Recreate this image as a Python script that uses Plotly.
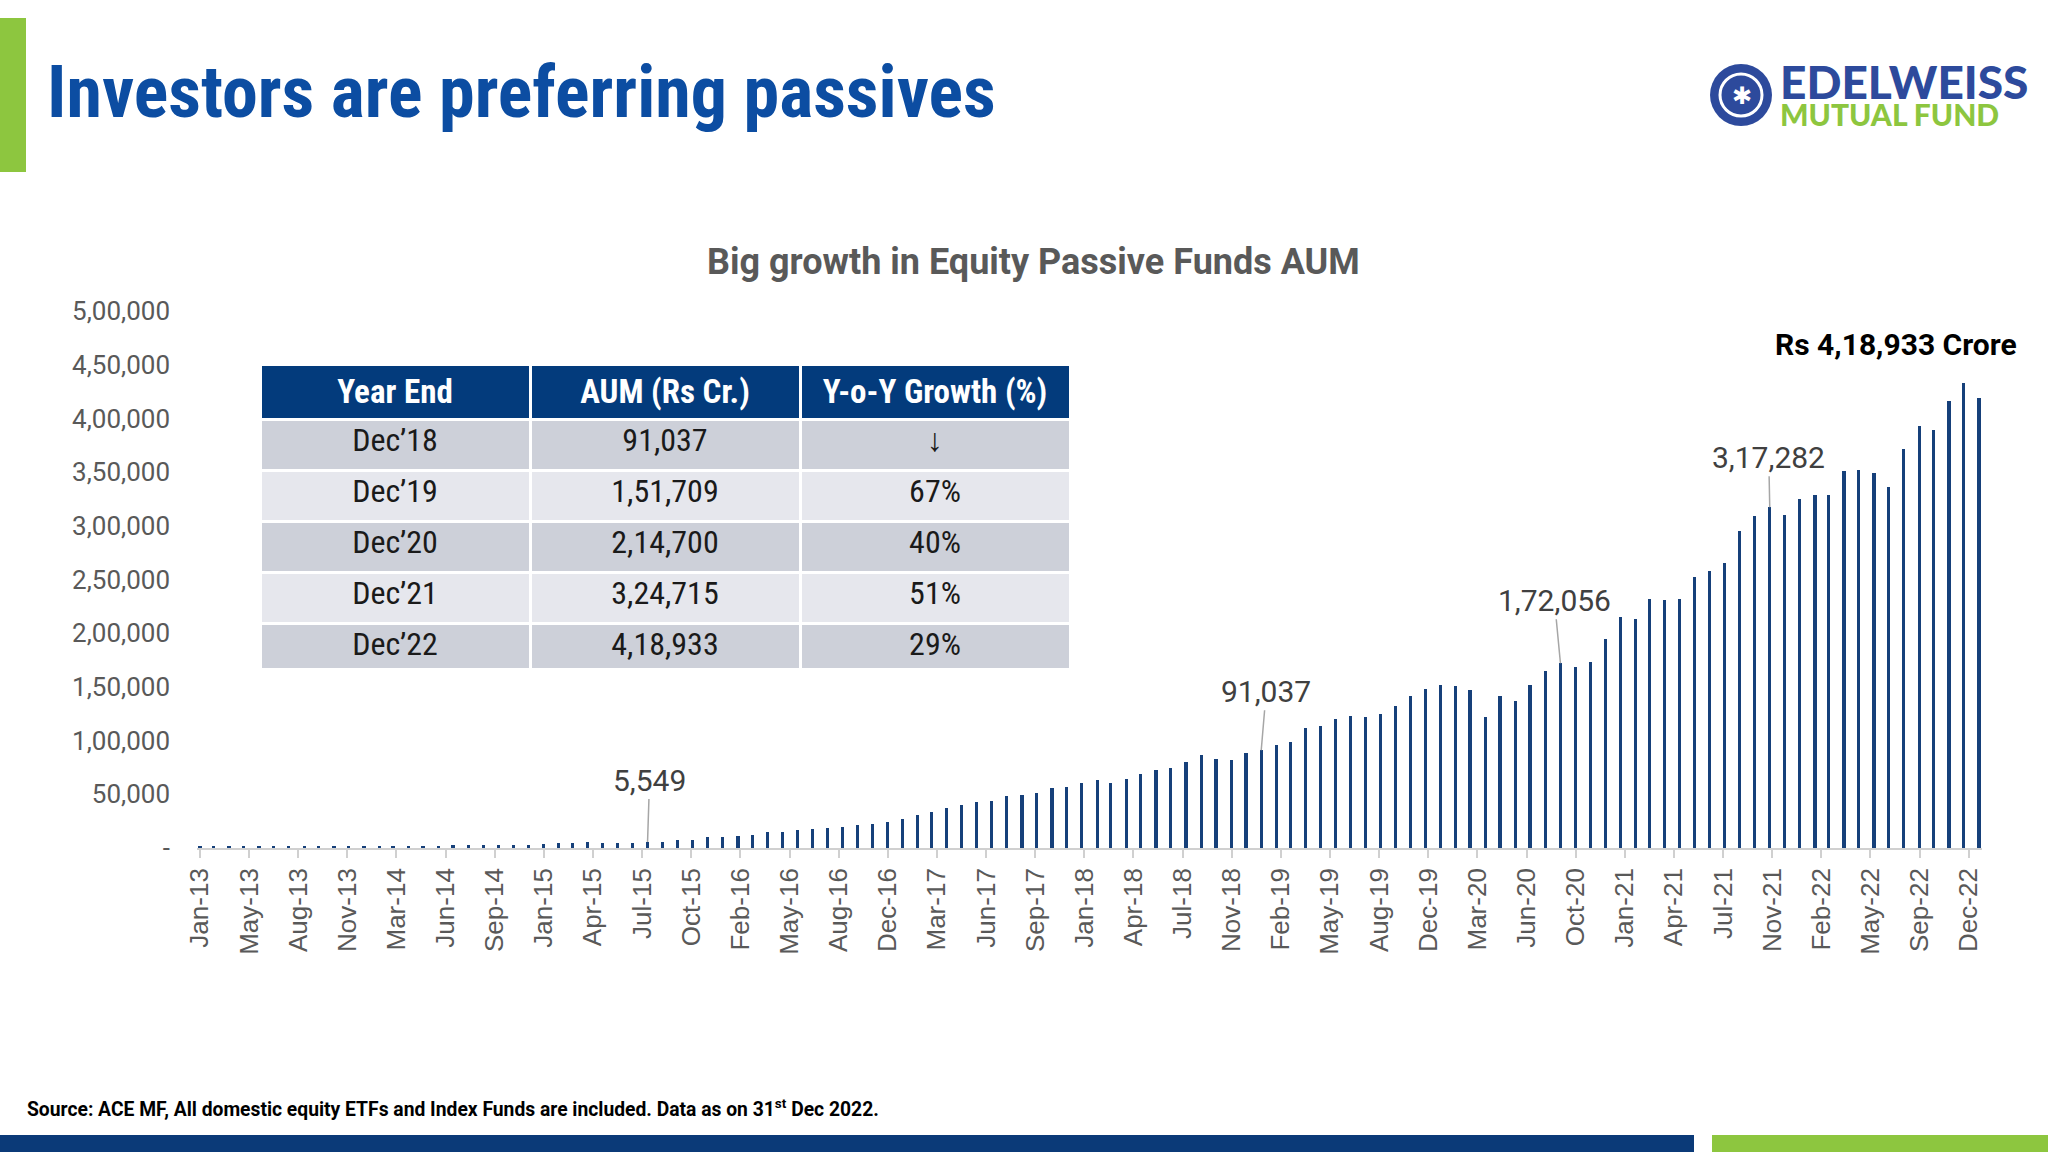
import plotly.graph_objects as go
import pandas as pd

W, H = 2048, 1152


def px(x):
    return x / W


def py(y):
    return 1 - y / H


# ---------------- data (Rs Cr., month-end AUM) ----------------
AUM_2013 = [1300, 1200, 1200, 1300, 1200, 1200, 1200, 1200, 1200, 1300, 1300, 1300]
AUM_2014 = [1300, 1400, 1500, 1600, 2100, 2700, 2800, 2800, 2500, 2800, 3100, 4000]
AUM_2015 = [4300, 4600, 5200, 4300, 4300, 4600, 5549, 5300, 7100, 7800, 9800, 10400]
AUM_2016 = [11200, 11800, 15000, 15000, 16500, 17800, 19000, 20000, 21000, 22200, 24000, 27000]
AUM_2017 = [30500, 33600, 37600, 39800, 42600, 43500, 48200, 49800, 51000, 56000, 56600, 60400]
AUM_2018 = [63200, 60800, 64500, 68800, 72900, 74700, 80500, 86300, 82600, 81600, 88000, 91037]
AUM_2019 = [95600, 98700, 112000, 113300, 120400, 122900, 122000, 124500, 132200, 141500, 148300, 151709]
AUM_2020 = [151100, 146800, 122000, 141200, 136600, 151800, 164800, 172056, 168800, 173200, 194300, 214700]
AUM_2021 = [212900, 231500, 230600, 231500, 252000, 257900, 265000, 295400, 309400, 317282, 310000, 324715]
AUM_2022 = [328900, 328900, 350700, 351600, 349400, 336100, 371800, 393200, 389500, 416200, 432600, 418933]
AUM = AUM_2013 + AUM_2014 + AUM_2015 + AUM_2016 + AUM_2017 + AUM_2018 + AUM_2019 + AUM_2020 + AUM_2021 + AUM_2022

MONTHS = list(pd.date_range("2013-01-01", periods=len(AUM), freq="MS") + pd.offsets.MonthEnd(0))
MONTHS = [m.strftime("%Y-%m-%d") for m in MONTHS]

LABELLED_MONTHS = ["2015-07-31", "2018-12-31", "2020-08-31", "2021-10-31"]

TICK_LABELS = ["Jan-13", "May-13", "Aug-13", "Nov-13", "Mar-14", "Jun-14", "Sep-14", "Jan-15",
               "Apr-15", "Jul-15", "Oct-15", "Feb-16", "May-16", "Aug-16", "Dec-16", "Mar-17",
               "Jun-17", "Sep-17", "Jan-18", "Apr-18", "Jul-18", "Nov-18", "Feb-19", "May-19",
               "Aug-19", "Dec-19", "Mar-20", "Jun-20", "Oct-20", "Jan-21", "Apr-21", "Jul-21",
               "Nov-21", "Feb-22", "May-22", "Sep-22", "Dec-22"]
TICK_STEP_DAYS = 100
TICK_DATES = [(pd.Timestamp(MONTHS[0]) + pd.Timedelta(days=TICK_STEP_DAYS * k)).strftime("%Y-%m-%d")
              for k in range(len(TICK_LABELS))]

Y_TICKS = [0, 50000, 100000, 150000, 200000, 250000, 300000, 350000, 400000, 450000, 500000]
Y_TICK_TEXT = ["-", "50,000", "1,00,000", "1,50,000", "2,00,000", "2,50,000", "3,00,000",
               "3,50,000", "4,00,000", "4,50,000", "5,00,000"]

TABLE_YEAR = ["Dec’18", "Dec’19", "Dec’20", "Dec’21", "Dec’22"]
TABLE_AUM = [91037, 151709, 214700, 324715, 418933]
TABLE_GROWTH = ["↓", "67%", "40%", "51%", "29%"]
TABLE_HEADER = ["Year End", "AUM (Rs Cr.)", "Y-o-Y Growth (%)"]


def fmt_in(n):
    s = str(int(n))
    if len(s) <= 3:
        return s
    head, tail = s[:-3], s[-3:]
    parts = []
    while len(head) > 2:
        parts.insert(0, head[-2:])
        head = head[:-2]
    if head:
        parts.insert(0, head)
    return ",".join(parts) + "," + tail


NAVY = "#16407a"
GREY_TXT = "#595959"
NARROW = "Liberation Sans Narrow, Arial Narrow, Roboto Condensed, sans-serif"

fig = go.Figure()

fig.add_trace(go.Bar(
    x=MONTHS, y=AUM, width=6.5 * 86400000,
    marker=dict(color=NAVY, line=dict(width=0)),
    hoverinfo="skip", showlegend=False,
))

row_fill = ["#cdd0d9", "#e6e7ed", "#cdd0d9", "#e6e7ed", "#cdd0d9"]
fig.add_trace(go.Table(
    domain=dict(x=[px(260), px(1070)], y=[py(668), py(364)]),
    columnwidth=[1, 1, 1],
    header=dict(values=["<b>%s</b>" % h for h in TABLE_HEADER],
                fill_color="#033b7c", align="center", height=47,
                line=dict(color="white", width=3),
                font=dict(color="white", size=33, family=NARROW)),
    cells=dict(values=[TABLE_YEAR, [fmt_in(v) for v in TABLE_AUM], TABLE_GROWTH],
               fill_color=[row_fill] * 3, align="center", height=51,
               line=dict(color="white", width=3),
               font=dict(color="#1a1a1a", size=32, family=NARROW)),
))

annotations = []
label_offsets = {"2015-07-31": (2, -62), "2018-12-31": (5, -59),
                 "2020-08-31": (-6, -63), "2021-10-31": (-1, -50)}
for m in LABELLED_MONTHS:
    i = MONTHS.index(m)
    ax, ay = label_offsets[m]
    annotations.append(dict(
        x=m, y=AUM[i], xref="x", yref="y", text=fmt_in(AUM[i]),
        showarrow=True, arrowhead=0, arrowwidth=1.5, arrowcolor="#a6a6a6",
        ax=ax, ay=ay, standoff=0,
        font=dict(size=30, color="#404040", family="Roboto"),
    ))

annotations.append(dict(
    x=MONTHS[-1], y=AUM[-1], xref="x", yref="y", text="Rs " + fmt_in(AUM[-1]) + " Crore",
    showarrow=False, xanchor="right", yanchor="bottom", xshift=40, yshift=34,
    font=dict(size=30, color="black", family="Roboto", weight="bold"),
))

annotations.append(dict(
    x=px(1033), y=py(262), xref="paper", yref="paper", xanchor="center", yanchor="middle",
    text="Big growth in Equity Passive Funds AUM", showarrow=False,
    font=dict(size=36, color=GREY_TXT, family="Roboto", weight="bold"),
))

annotations.append(dict(
    x=px(45), y=py(92), xref="paper", yref="paper", xanchor="left", yanchor="middle",
    text="Investors are preferring passives", showarrow=False,
    font=dict(size=72, color="#0c4da2", family=NARROW, weight="bold"),
))

annotations.append(dict(
    x=px(1778), y=py(93), xref="paper", yref="paper", xanchor="left", yanchor="middle",
    align="left", showarrow=False,
    text=("<span style='font-size:46px;color:#2d4a9c'>EDELWEISS</span><br>"
          "<span style='font-size:30px;color:#8dc63f'>MUTUAL FUND</span>"),
    font=dict(size=21, color="#2d4a9c", family="Lato", weight=900),
))
annotations.append(dict(
    x=px(1742), y=py(96), xref="paper", yref="paper", xanchor="center", yanchor="middle",
    text="✱", showarrow=False,
    font=dict(size=24, color="white", family="DejaVu Sans"),
))

annotations.append(dict(
    x=px(25), y=py(1108), xref="paper", yref="paper", xanchor="left", yanchor="middle",
    text="Source: ACE MF, All domestic equity ETFs and Index Funds are included. Data as on 31<sup>st</sup> Dec 2022.",
    showarrow=False,
    font=dict(size=19.3, color="black", family="Roboto", weight="bold"),
))

shapes = [
    dict(type="rect", xref="paper", yref="paper", x0=0, x1=px(26), y0=py(172), y1=py(18),
         fillcolor="#8dc63f", line=dict(width=0)),
    dict(type="rect", xref="paper", yref="paper", x0=0, x1=px(1694), y0=0, y1=py(1135),
         fillcolor="#0b3a78", line=dict(width=0)),
    dict(type="rect", xref="paper", yref="paper", x0=px(1712), x1=1, y0=0, y1=py(1135),
         fillcolor="#8dc63f", line=dict(width=0)),
    dict(type="circle", xref="paper", yref="paper", x0=px(1710), x1=px(1772), y0=py(126), y1=py(64),
         fillcolor="#2d4a9c", line=dict(width=0)),
    dict(type="circle", xref="paper", yref="paper", x0=px(1720), x1=px(1762), y0=py(116), y1=py(74),
         fillcolor="rgba(0,0,0,0)", line=dict(color="white", width=3)),
]

fig.update_layout(
    autosize=True,
    margin=dict(l=0, r=0, t=0, b=0, autoexpand=False),
    paper_bgcolor="white", plot_bgcolor="white",
    font=dict(family="Roboto", color=GREY_TXT),
    showlegend=False, bargap=0,
    annotations=annotations, shapes=shapes,
    xaxis=dict(
        type="date", domain=[px(197), px(1982)], range=["2013-01-25", "2023-01-06"],
        tickmode="array", tickvals=TICK_DATES, ticktext=TICK_LABELS, tickangle=-90,
        ticks="outside", ticklen=8, tickwidth=1.5, tickcolor="#d0d0d0",
        showline=True, linecolor="#d0d0d0", linewidth=1.5,
        showgrid=False, zeroline=False,
        tickfont=dict(size=26, color=GREY_TXT, family="Liberation Sans, Arial, sans-serif"),
    ),
    yaxis=dict(
        domain=[py(848), py(311)], range=[0, 500000],
        tickmode="array", tickvals=Y_TICKS, ticktext=Y_TICK_TEXT,
        ticks="", ticklabelstandoff=26, showline=False, showgrid=False, zeroline=False,
        tickfont=dict(size=26, color=GREY_TXT, family="Roboto"),
    ),
)

fig.write_html("out.html", default_width="%dpx" % W, default_height="%dpx" % H)
